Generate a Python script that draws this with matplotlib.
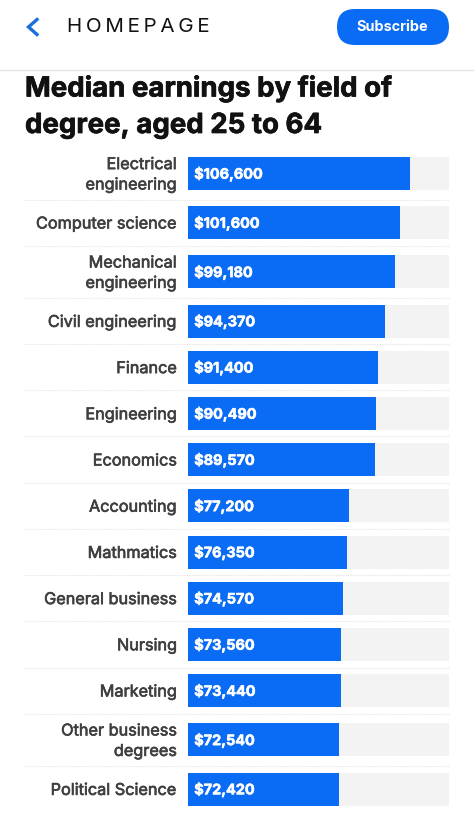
import matplotlib
matplotlib.use('Agg')
import matplotlib.pyplot as plt
import matplotlib.patheffects as pe
from matplotlib.patches import FancyBboxPatch

fields = ['Electrical\nengineering', 'Computer science', 'Mechanical\nengineering',
          'Civil engineering', 'Finance', 'Engineering', 'Economics', 'Accounting',
          'Mathmatics', 'General business', 'Nursing', 'Marketing',
          'Other business\ndegrees', 'Political Science']
earnings = [106600, 101600, 99180, 94370, 91400, 90490, 89570, 77200,
            76350, 74570, 73560, 73440, 72540, 72420]
trackMax = 125300

W, H = 474, 819
BLUE = '#0a6cf5'
plt.rcParams['font.family'] = ['Inter', 'DejaVu Sans']

fig = plt.figure(figsize=(W / 100, H / 100), dpi=100)

# pagina inteira em pixels, para o cabecalho
page = fig.add_axes([0, 0, 1, 1])
page.set_xlim(0, W)
page.set_ylim(H, 0)
page.axis('off')

page.plot([37, 28.5, 37], [19.5, 27, 34.5], color='#1a6fdc', lw=2.4, solid_joinstyle='miter')
page.text(67.5, 27, '\u2009'.join('HOMEPAGE'), fontsize=14.8, color='#111111', va='center', ha='left')
page.add_patch(FancyBboxPatch((355, 27), 76, 0, boxstyle='round,pad=18,rounding_size=18',
                              fc=BLUE, ec='none'))
page.text(392.5, 27, 'Subscribe', fontsize=10.4, color='white', fontweight='bold', ha='center', va='center')
page.plot([0, W], [69.5, 69.5], color='#e2e2e2', lw=1)

titleStroke = [pe.withStroke(linewidth=0.5, foreground='#111111')]
page.text(25, 96.5, 'Median earnings by field of', fontsize=19.9, fontweight='bold', color='#111111',
          va='baseline', path_effects=titleStroke)
page.text(25, 133, 'degree, aged 25 to 64', fontsize=19.9, fontweight='bold', color='#111111',
          va='baseline', path_effects=titleStroke)

# barras: x em dolares, y em pixels
bars = fig.add_axes([188 / W, 0, 261 / W, 1], zorder=2)
bars.set_xlim(0, trackMax)
bars.set_ylim(H, 0)
bars.axis('off')
bars.patch.set_alpha(0)

# o Inter instalado nao tem peso medio, entao engrossa com um contorno fino
thicker = [pe.withStroke(linewidth=0.45, foreground='#3f3f3f')]
thickerWhite = [pe.withStroke(linewidth=0.4, foreground='white')]

y = 173.5
prevTwo = False
for i, (name, value) in enumerate(zip(fields, earnings)):
    two = '\n' in name
    if i > 0:
        y += 46.2 + 3 * two + 3 * prevTwo
    bars.barh(y, trackMax, height=33, color='#f3f3f3')
    bars.barh(y, value, height=33, color=BLUE)
    bars.text(3000, y + 0.7, f'${value:,}', color='white', fontsize=10.4, fontweight='bold',
              va='center', ha='left', path_effects=thickerWhite)
    page.text(177, y + 1.3, name, color='#3f3f3f', fontsize=11.7,
              ha='right', va='center', linespacing=1.45, path_effects=thicker)
    if i < len(fields) - 1:
        sepY = y + 23 + 3 * two
        page.plot([25, 449], [sepY, sepY], color='#e2e2e2', lw=0.8, ls=(0, (1, 1.2)))
    prevTwo = two

fig.savefig('out.png', dpi=100)
